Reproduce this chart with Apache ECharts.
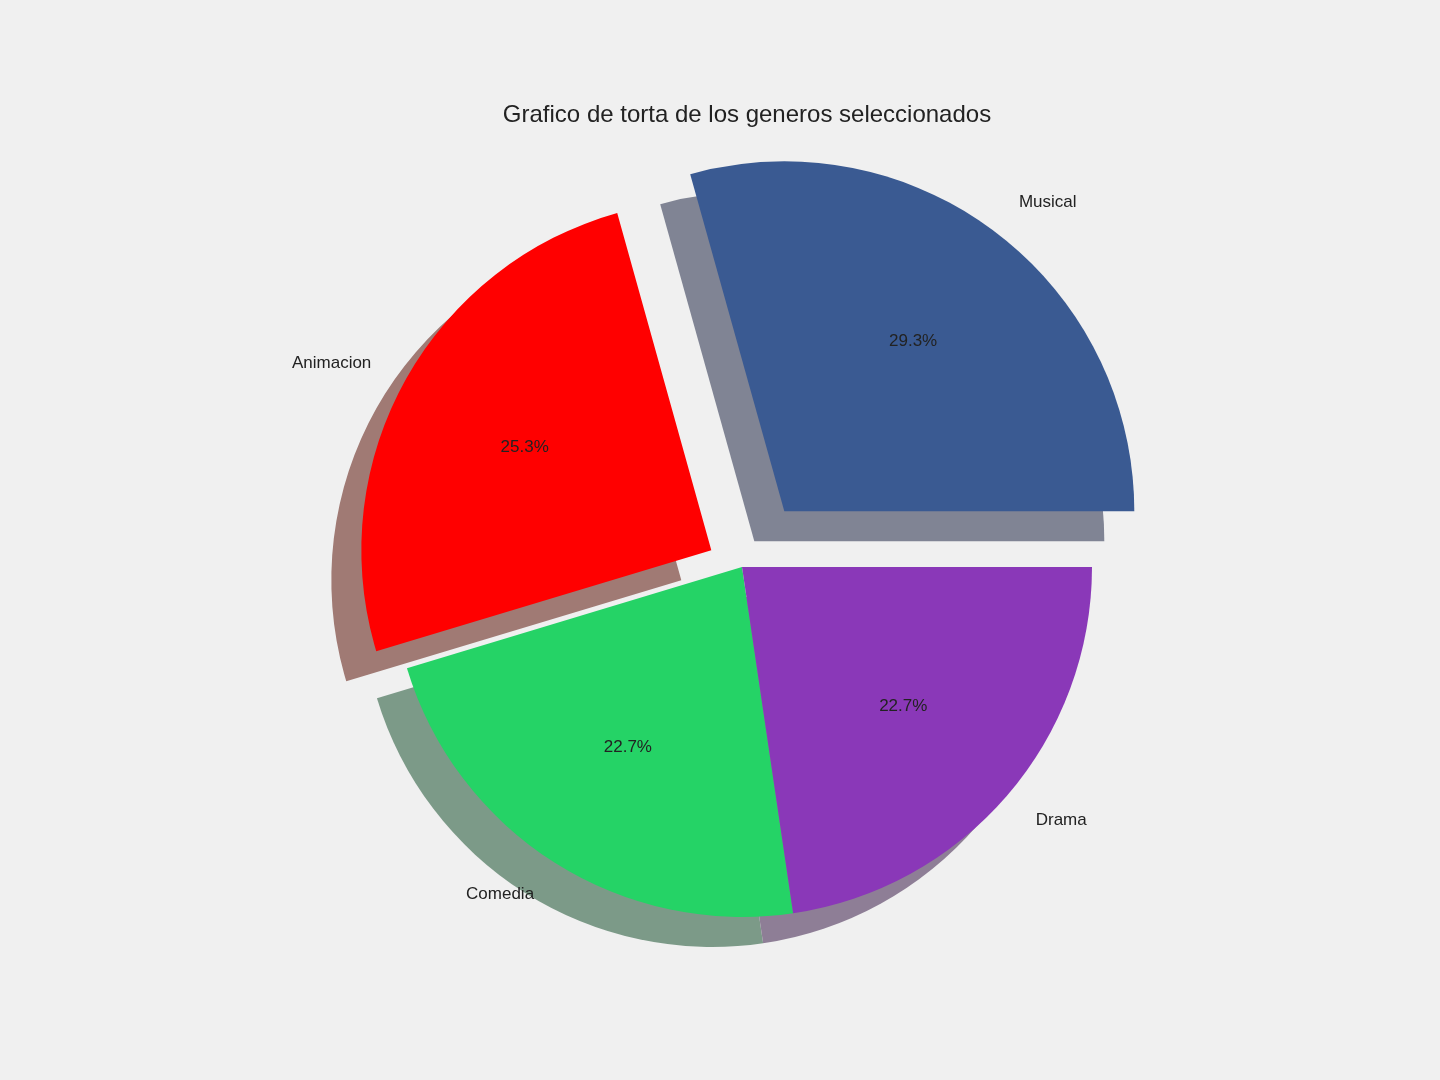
<!DOCTYPE html>
<html><head><meta charset="utf-8">
<script src="https://cdn.jsdelivr.net/npm/echarts@6/dist/echarts.min.js"></script>
<style>html,body{margin:0;background:#f0f0f0}#c{width:1440px;height:1080px}</style>
</head><body><div id="c"></div>
<script>
const categories = ['Musical','Animacion','Comedia','Drama'];
const values = [44, 38, 34, 34];
const explode = [0.2, 0.1, 0, 0];
const colors = ['#3a5a92','#ff0000','#25d366','#8a38b8'];
const shadowColors = ['#808494','#a07a74','#7c9a88','#8e7e96'];

const CX = 742, CY = 567, R = 350, SHX = -30, SHY = 30;
const total = values.reduce((a,b)=>a+b,0);
const font = '"Liberation Sans", Arial, sans-serif';
const series = [];
let cum = 0;
const offs = values.map((v,i)=>{
  const mid = (cum + v/2)/total*2*Math.PI; cum += v;
  return {dx: explode[i]*R*Math.cos(mid), dy: -explode[i]*R*Math.sin(mid), c: Math.cos(mid)};
});
function mk(i, opts){
  return Object.assign({
    type:'pie', clockwise:false, startAngle:0, silent:true, animation:false,
    avoidLabelOverlap:false, labelLine:{show:false},
    emphasis:{disabled:true},
    data: categories.map((n,j)=>({name:n, value:values[j],
      itemStyle:{color: j===i ? opts.color : 'transparent'},
      label:{show: j===i && !!opts.label}}))
  }, opts.s);
}
for (let i=0;i<values.length;i++){
  const o = offs[i];
  series.push(mk(i,{color:shadowColors[i], s:{center:[CX+o.dx+SHX, CY+o.dy+SHY], radius:[0,R], label:{show:false}}}));
}
for (let i=0;i<values.length;i++){
  const o = offs[i];
  const c = [CX+o.dx, CY+o.dy];
  series.push(mk(i,{color:colors[i], s:{center:c, radius:[0,R], label:{show:false}}}));
  series.push(mk(i,{color:'transparent', label:true, s:{center:c, radius:[0.2*R,R], z:5,
    label:{position:'inner', color:'#222', fontSize:17, fontFamily:font,
      formatter:p=>(p.value/total*100).toFixed(1)+'%'}}}));
  series.push(mk(i,{color:'transparent', label:true, s:{center:c, radius:[R,1.2*R], z:5,
    label:{position:'inner', color:'#222', fontSize:17, fontFamily:font, formatter:'{b}'},
    labelLayout: (p)=>{
      const ax = p.labelRect.x + p.labelRect.width/2, ay = p.labelRect.y + p.labelRect.height/2;
      return {x: ax, y: ay, align: o.c>=0?'left':'right', verticalAlign:'middle'};
    }}}));
}
const chart = echarts.init(document.getElementById('c'));
chart.setOption({
  backgroundColor:'#f0f0f0',
  title:{text:'Grafico de torta de los generos seleccionados', left:742, top:98, textAlign:'center',
    textStyle:{fontSize:24, fontWeight:'normal', color:'#222', fontFamily:font}},
  series
});
</script></body></html>
